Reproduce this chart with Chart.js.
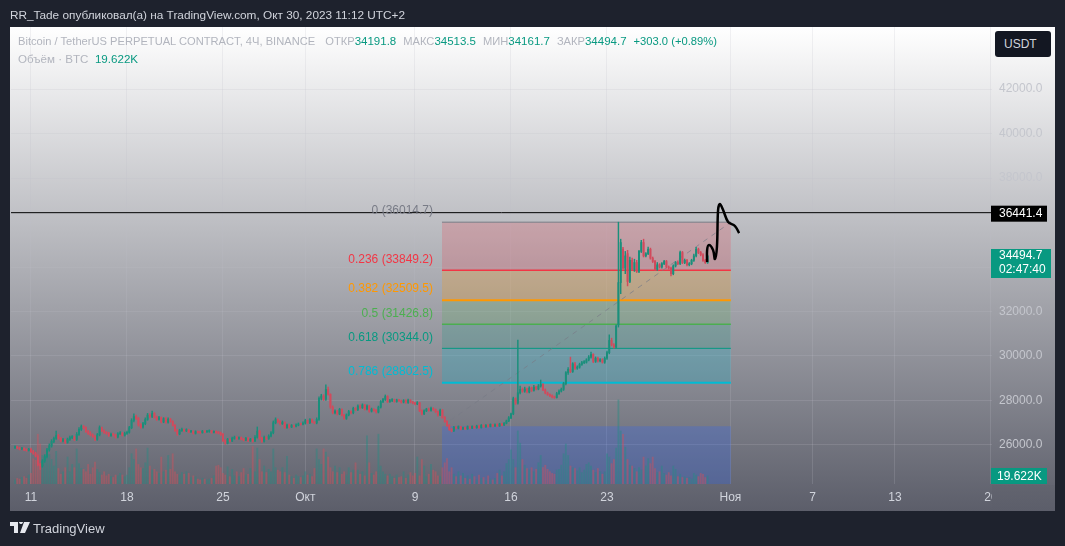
<!DOCTYPE html>
<html>
<head>
<meta charset="utf-8">
<script src="https://cdn.jsdelivr.net/npm/chart.js"></script>
<style>
  html, body { margin: 0; padding: 0; background: #1e222d; width: 1065px; height: 546px; overflow: hidden; }
  body { font-family: "Liberation Sans", sans-serif; font-size: 12px; position: relative; }
  #panel { position: absolute; left: 10px; top: 27px; width: 1045px; height: 484px; background: linear-gradient(#ffffff, #5c5e6a); }
  canvas { position: absolute; left: 0; top: 0; }
  .txt { position: absolute; white-space: pre; }
  .val { color: #089981; }
  #title { left: 10px; top: 8px; color: #d1d4dc; font-size: 11.8px; }
  #line1 { left: 18px; top: 35px; color: #b2b5be; font-size: 11.15px; }
  #line1 .val { font-size: 11.5px; }
  #line1 .name { margin-left: 7px; }
  #line1 .chg { font-size: 11.2px; margin-left: 7px; }
  #line2 { left: 18px; top: 52px; color: #b2b5be; font-size: 11.6px; }
  #usdt { left: 995px; top: 31px; width: 56px; height: 26px; line-height: 26px; background: #131722; color: #d1d4dc; border-radius: 3px; text-indent: 9px; }
  #corner { position: absolute; left: 992px; top: 485px; width: 63px; height: 26px; background: linear-gradient(#62646f, #5c5e6a); }
  #brand { left: 33px; top: 521px; color: #d1d4dc; font-size: 13px; }
  #logo { position: absolute; left: 10px; top: 522px; }
</style>
</head>
<body>
<div id="panel"></div>
<canvas id="grafico" width="1065" height="546"></canvas>
<div id="corner"></div>
<div class="txt" id="title">RR_Tade опубликовал(а) на TradingView.com, Окт 30, 2023 11:12 UTC+2</div>
<div class="txt" id="line1">Bitcoin / TetherUS PERPETUAL CONTRACT, 4Ч, BINANCE <span class="name">ОТКР</span><span class="val">34191.8</span><span class="name">МАКС</span><span class="val">34513.5</span><span class="name">МИН</span><span class="val">34161.7</span><span class="name">ЗАКР</span><span class="val">34494.7</span><span class="val chg">+303.0 (+0.89%)</span></div>
<div class="txt" id="line2">Объём · BTC  <span class="val">19.622K</span></div>
<div class="txt" id="usdt">USDT</div>
<svg id="logo" width="20" height="12" viewBox="0 0 20 12"><path fill="#e6e8ee" d="M0 0h8v11H4V4H0zM9 0a2 2 0 1 1 0 .01zM14 0h6l-5 11h-5z"/></svg>
<div class="txt" id="brand">TradingView</div>

<script>
// velas de 4 horas, la primera en el indice -7 (indice 0 = 11 sep)
var firstIndex = -7;

var opens = [
  25880,25900,25870,25820,25850,25790,25760,
  25810,25700,25620,25500,25120,25060, 25280,25480,25780,25960,26160,26300,
  26430,26300,26180,26240,26120,26260, 26330,26350,26250,26480,26700,26830,
  26780,26600,26520,26450,26380,26250, 26460,26780,26640,26560,26530,26420,
  26480,26460,26360,26500,26540,26440, 26520,26570,26780,27100,27280,27200,
  26900,26800,26960,27150,27340,27280, 27420,27250,27150,27230,27040,27180,
  27020,27160,27060,26880,26650,26500, 26650,26700,26640,26680,26590,26620,
  26530,26600,26570,26560,26620,26590, 26610,26640,26570,26610,26560,26540,
  26480,26200,26080,26240,26180,26300, 26340,26290,26330,26270,26220,26300,
  26190,26250,26180,26350,26620,26300, 26170,26340,26290,26400,26550,27000,
  27140,27060,26960,27020,26780,26900, 26810,26880,26840,26900,26950,26930,
  26990,27100,27000,27140,27030,26990, 27150,28100,28200,28050,28500,28280,
  27700,27450,27520,27400,27600,27350, 27200,27350,27500,27450,27650,27590,
  27750,27680,27800,27620,27750,27520, 27610,27560,27480,27700,27950,28050,
  28180,27950,28000,28040,27960,28020, 27990,27930,28000,27910,28020,27930,
  27890,27850,27900,27550,27400,27540, 27610,27560,27650,27600,27500,27350,
  27560,27240,27060,26880,26700,26640, 26800,26760,26820,26720,26780,26730,
  26820,26760,26830,26780,26850,26790, 26880,26820,26890,26840,26920,26850,
  26910,26860,26940,26900,26980,27080, 27220,27400,28080,27880,28350,28500,
  28420,28520,28380,28560,28450,28600, 28520,28650,28720,28480,28340,28270,
  28210,28160,28130,28310,28420,28500, 28760,29250,29400,29300,29650,29450,
  29500,29620,29700,29720,29820,29950, 30080,29760,29900,29780,29830,29720,
  29900,30150,30700,30500,30400,31400,
  33300,34800,33950,34600,33350, 34300,33900,34200,33800,34700,
  35100,34500,34600,34800,34400, 34250,33900,34100,34000,34150,
  34250,34000,33950,33700,34050, 34200,34150,34650,34200,34300,
  34100,34150,34300,34500,34800, 34650,34550,34300,34191.8
];
var highs = [
  25960,25950,25900,25900,25880,25830,25850,
  25860,25760,25680,25560,25180,25340, 25560,25850,26050,26240,26360,26620,
  26480,26340,26300,26260,26310,26400, 26420,26400,26560,26780,26900,26880,
  26820,26660,26600,26500,26420,26520, 26860,26800,26680,26600,26570,26540,
  26530,26480,26560,26600,26560,26580, 26620,26840,27180,27400,27340,27240,
  26960,27020,27220,27420,27400,27520, 27460,27300,27290,27260,27230,27240,
  27220,27200,27090,26920,26700,26710, 26760,26720,26730,26700,26660,26640,
  26640,26620,26600,26660,26640,26650, 26680,26660,26640,26640,26600,26580,
  26520,26240,26300,26280,26360,26400, 26380,26370,26360,26300,26350,26340,
  26300,26290,26420,26810,26660,26340, 26400,26380,26460,26600,27080,27220,
  27180,27100,27080,27040,26940,26940, 26920,26900,26950,26990,26980,27040,
  27160,27120,27190,27170,27050,27220, 28160,28280,28260,28700,28600,28300,
  27760,27580,27560,27650,27620,27380, 27400,27560,27540,27700,27680,27810,
  27800,27850,27820,27800,27780,27660, 27640,27600,27750,28000,28100,28250,
  28220,28050,28090,28060,28060,28050, 28020,28040,28040,28060,28040,27960,
  27920,27950,27920,27580,27580,27650, 27660,27700,27680,27620,27520,27610,
  27600,27280,27100,26920,26740,26840, 26830,26860,26840,26810,26800,26860,
  26850,26860,26850,26890,26870,26920, 26910,26920,26920,26950,26930,26950,
  26950,26980,26970,27010,27120,27280, 27440,28150,28120,30720,28650,28560,
  28600,28560,28620,28600,28680,28640, 28720,28920,28760,28520,28380,28300,
  28260,28200,28370,28480,28560,28820, 29300,29480,29950,29700,29720,29560,
  29680,29760,29790,29880,30020,30180, 30100,29960,29950,29880,29880,29960,
  30220,30950,30800,30560,31400,36014.7,
  35250,34880,34700,34750,34450, 34400,34350,34300,34750,35200,
  35250,34650,34900,34850,34450, 34300,34200,34150,34200,34300,
  34300,34050,34000,34100,34250, 34280,34720,34700,34360,34350,
  34200,34350,34580,34880,34850, 34700,34600,34350,34513.5
];
var lows = [
  25840,25830,25780,25790,25750,25720,25730,
  25660,25580,25460,25060,24900,25000, 25220,25420,25720,25900,26100,26250,
  26260,26140,26140,26060,26080,26210, 26280,26200,26200,26430,26650,26720,
  26560,26480,26410,26340,26200,26210, 26410,26600,26520,26480,26380,26380,
  26400,26310,26320,26470,26400,26400, 26480,26530,26730,27040,27150,26850,
  26750,26760,26910,27110,27220,27230, 27210,27100,27120,26990,27000,26970,
  26980,27020,26850,26610,26430,26460, 26610,26600,26600,26550,26570,26490,
  26490,26530,26520,26530,26550,26560, 26570,26530,26540,26520,26500,26430,
  26150,26030,26050,26140,26150,26260, 26250,26250,26230,26180,26190,26150,
  26160,26130,26150,26310,26260,26120, 26130,26240,26250,26360,26500,26950,
  26990,26900,26920,26740,26750,26760, 26780,26800,26810,26860,26890,26900,
  26940,26960,26960,27000,26950,26950, 27100,28020,28000,28000,28240,27650,
  27400,27400,27350,27360,27310,27150, 27150,27310,27400,27400,27540,27540,
  27630,27640,27570,27580,27470,27480, 27510,27430,27440,27660,27900,28000,
  27900,27910,27950,27920,27920,27950, 27880,27890,27870,27870,27890,27850,
  27800,27810,27500,27350,27360,27500, 27520,27520,27550,27450,27300,27320,
  27200,27020,26840,26660,26590,26600, 26720,26720,26680,26690,26690,26700,
  26730,26730,26740,26750,26750,26760, 26790,26790,26800,26810,26820,26830,
  26830,26830,26870,26870,26950,27050, 27180,27360,27820,27840,28300,28370,
  28370,28340,28340,28400,28420,28470, 28480,28600,28440,28300,28230,28170,
  28120,28090,28110,28270,28380,28450, 28700,29170,29250,29260,29400,29400,
  29450,29580,29650,29680,29780,29900, 29700,29710,29720,29730,29680,29670,
  29850,30100,30450,30350,30350,31300,
  32800,33900,33700,33150,33300, 33850,33800,33750,33750,34650,
  34450,34450,34550,34350,34200, 33850,33850,33950,33950,34100,
  33950,33900,33600,33650,34000, 34100,34100,34150,34150,34050,
  34050,34100,34250,34450,34600, 34500,34250,34161.7,34161.7
];
var closes = [
  25900,25870,25820,25850,25790,25760,25810,
  25700,25620,25500,25120,25060,25280, 25480,25780,25960,26160,26300,26430,
  26300,26180,26240,26120,26260,26330, 26350,26250,26480,26700,26830,26780,
  26600,26520,26450,26380,26250,26460, 26780,26640,26560,26530,26420,26480,
  26460,26360,26500,26540,26440,26520, 26570,26780,27100,27280,27200,26900,
  26800,26960,27150,27340,27280,27420, 27250,27150,27230,27040,27180,27020,
  27160,27060,26880,26650,26500,26650, 26700,26640,26680,26590,26620,26530,
  26600,26570,26560,26620,26590,26610, 26640,26570,26610,26560,26540,26480,
  26200,26080,26240,26180,26300,26340, 26290,26330,26270,26220,26300,26190,
  26250,26180,26350,26620,26300,26170, 26340,26290,26400,26550,27000,27140,
  27060,26960,27020,26780,26900,26810, 26880,26840,26900,26950,26930,26990,
  27100,27000,27140,27030,26990,27150, 28100,28200,28050,28500,28280,27700,
  27450,27520,27400,27600,27350,27200, 27350,27500,27450,27650,27590,27750,
  27680,27800,27620,27750,27520,27610, 27560,27480,27700,27950,28050,28180,
  27950,28000,28040,27960,28020,27990, 27930,28000,27910,28020,27930,27890,
  27850,27900,27550,27400,27540,27610, 27560,27650,27600,27500,27350,27560,
  27240,27060,26880,26700,26640,26800, 26760,26820,26720,26780,26730,26820,
  26760,26830,26780,26850,26790,26880, 26820,26890,26840,26920,26850,26910,
  26860,26940,26900,26980,27080,27220, 27400,28080,27880,28350,28500,28420,
  28520,28380,28560,28450,28600,28520, 28650,28720,28480,28340,28270,28210,
  28160,28130,28310,28420,28500,28760, 29250,29400,29300,29650,29450,29500,
  29620,29700,29720,29820,29950,30080, 29760,29900,29780,29830,29720,29900,
  30150,30700,30500,30400,31350,33300,
  35100,33950,34500,33350,34300, 33900,34200,33800,34700,35100,
  34500,34600,34800,34400,34250, 33900,34100,34000,34150,34250,
  34000,33950,33700,34050,34200, 34150,34650,34200,34300,34100,
  34150,34300,34500,34800,34650, 34550,34300,34191.8,34494.7
];
// volumen en miles de BTC
var volumes = [
  10,14,12,16,18,14,22,
  26,62,58,122,98,70, 72,66,72,60,44,80,
  38,24,30,40,66,30, 48,40,86,50,38,36,
  30,48,24,40,54,36, 28,22,30,20,24,18,
  16,22,20,26,22,18, 22,40,74,60,86,48,
  40,38,52,88,44,34, 36,30,26,66,30,34,
  70,36,74,30,24,22, 28,24,30,26,16,20,
  18,12,10,14,12,10, 12,14,20,44,46,40,
  26,22,42,18,36,20, 30,18,28,38,22,24,
  38,92,30,88,60,30, 44,28,36,30,86,40,
  34,30,40,28,68,22, 18,14,22,18,16,20,
  30,22,24,18,38,86, 60,48,86,78,66,40,
  30,44,28,40,24,30, 22,40,28,34,52,34,
  24,30,20,118,52,26, 22,30,122,44,30,24,
  20,24,18,14,22,16, 18,30,14,22,28,20,
  26,66,20,60,44,18, 24,48,34,30,20,18,
  40,52,62,30,40,24, 18,30,20,26,14,20,
  12,24,18,10,22,14, 16,8,20,12,10,14,
  26,34,20,30,50,60, 84,60,40,130,100,60,
  46,38,34,40,30,36, 52,70,40,46,36,30,
  26,24,34,36,46,74, 98,70,44,40,38,32,
  40,28,34,48,52,44, 34,28,38,30,24,30,
  74,66,50,60,88,206,
  130,122,90,60,46, 44,38,30,40,34,
  66,44,62,50,66, 38,28,30,44,26,
  22,28,20,44,36, 18,24,16,18,14,
  16,12,26,22,18, 26,24,16,19.622
];

var timeTicks = [0, 42, 84, 120, 168, 210, 252, 306, 342, 378, 420];
var timeLabels = ['11', '18', '25', 'Окт', '9', '16', '23', 'Ноя', '7', '13', '20'];
var priceTicks = [26000, 28000, 30000, 32000, 34000, 36000, 38000, 40000, 42000];
var hiddenPrices = [34000, 36000];

// niveles de Fibonacci
var fibNames = ['0', '0.236', '0.382', '0.5', '0.618', '0.786'];
var fibPrices = [36014.7, 33849.2, 32509.5, 31426.8, 30344.0, 28802.5];
var fibBase = 26838;
var fibStart = 179.8;
var fibEnd = 306.2;

var markedPrice = 36441.4;
var lastPrice = 34494.7;
var lastVolume = 19.622;

// trazo a mano sobre el grafico
var penX = [295.8, 295.8, 296.6, 298.4, 299.2, 300.1, 300.6, 301.4, 302.8, 305, 308, 309.8];
var penY = [34224, 34763, 34988, 34763, 34359, 34898, 36561, 36831, 36561, 36022, 35842, 35527];

var xMin = -8.75, xMax = 420.44;
var yMin = 24247, yMax = 44787;
var volMax = 1120;

var fibColors = ['#787b86', '#f23645', '#ff9800', '#4caf50', '#089981', '#00bcd4'];
var fibWidths = [1, 1.5, 2, 1.5, 1, 2];
var bandColors = ['rgba(242,54,69,.2)', 'rgba(255,152,0,.22)', 'rgba(76,175,80,.2)', 'rgba(8,153,129,.2)', 'rgba(0,188,212,.22)'];
var upColor = '#1a8f7b', downColor = '#d24a5c';

var labelFont = '12px "Liberation Sans"';
Chart.defaults.font.family = '"Liberation Sans"';
Chart.defaults.font.size = 12;

function indexOf(k) { return firstIndex + k; }

var candleColors = closes.map(function (c, k) { return c >= opens[k] ? upColor : downColor; });
var volumeColors = closes.map(function (c, k) { return c >= opens[k] ? 'rgba(38,140,130,.45)' : 'rgba(210,80,90,.45)'; });

// datasets de las bandas de Fibonacci
var fibDatasets = fibPrices.map(function (price, k) {
  var target = k < bandColors.length ? fibPrices[k + 1] : price;
  return {
    type: 'line',
    data: [{ x: fibStart, y: price }, { x: fibEnd, y: price }],
    borderColor: fibColors[k],
    borderWidth: fibWidths[k],
    pointRadius: 0,
    fill: { target: { value: target } },
    backgroundColor: k < bandColors.length ? bandColors[k] : 'transparent',
    order: 10
  };
});

var datasets = fibDatasets.concat([
  {
    type: 'line',
    data: [{ x: fibStart, y: fibBase }, { x: fibEnd, y: fibBase }],
    borderWidth: 0,
    pointRadius: 0,
    fill: { target: { value: yMin } },
    backgroundColor: 'rgba(41,98,255,.25)',
    order: 10
  },
  {
    type: 'line',
    data: [{ x: fibStart, y: fibBase }, { x: fibEnd, y: fibPrices[0] }],
    borderColor: 'rgba(120,123,134,.7)',
    borderWidth: 1,
    borderDash: [5, 5],
    pointRadius: 0,
    order: 9
  },
  {
    type: 'bar',
    yAxisID: 'yVol',
    data: volumes.map(function (v, k) { return { x: indexOf(k), y: v }; }),
    backgroundColor: volumeColors,
    barThickness: 1.2,
    grouped: false,
    order: 8
  },
  {
    type: 'bar',
    data: highs.map(function (h, k) { return { x: indexOf(k), y: [lows[k], h] }; }),
    backgroundColor: candleColors,
    barThickness: 0.8,
    grouped: false,
    order: 4
  },
  {
    type: 'bar',
    data: opens.map(function (o, k) { return { x: indexOf(k), y: [o, closes[k]] }; }),
    backgroundColor: candleColors,
    barThickness: 1.3,
    minBarLength: 1,
    grouped: false,
    order: 3
  },
  {
    type: 'line',
    data: [{ x: xMin, y: markedPrice }, { x: xMax, y: markedPrice }],
    borderColor: '#000000',
    borderWidth: 1,
    pointRadius: 0,
    order: 2
  },
  {
    type: 'line',
    data: penX.map(function (x, k) { return { x: x, y: penY[k] }; }),
    borderColor: '#000000',
    borderWidth: 2.5,
    tension: 0.35,
    pointRadius: 0,
    order: 1
  }
]);

// etiquetas de Fibonacci y marcas del eje de precios
var overlayPlugin = {
  id: 'overlay',
  afterDatasetsDraw: function (chart) {
    var ctx = chart.ctx;
    var y = chart.scales.y;
    var yVol = chart.scales.yVol;
    ctx.save();
    ctx.font = labelFont;
    ctx.textBaseline = 'middle';

    ctx.textAlign = 'right';
    fibPrices.forEach(function (price, k) {
      ctx.fillStyle = fibColors[k];
      ctx.fillText(fibNames[k] + ' (' + price.toFixed(1) + ')', 433, y.getPixelForValue(price) - 11);
    });

    ctx.textAlign = 'left';
    var py = y.getPixelForValue(markedPrice);
    ctx.fillStyle = '#000000';
    ctx.fillRect(991, py - 7, 56, 16);
    ctx.fillStyle = '#ffffff';
    ctx.fillText(markedPrice.toFixed(1), 999, py + 1.5);

    py = y.getPixelForValue(lastPrice);
    ctx.fillStyle = '#089981';
    ctx.fillRect(991, py - 7, 60, 29);
    ctx.fillStyle = '#ffffff';
    ctx.fillText(lastPrice.toFixed(1), 999, py);
    ctx.fillText('02:47:40', 999, py + 14);

    py = yVol.getPixelForValue(lastVolume);
    ctx.fillStyle = '#089981';
    ctx.fillRect(991, py - 8, 56, 16);
    ctx.fillStyle = '#ffffff';
    ctx.fillText(lastVolume.toFixed(3) + 'K', 997, py + 0.5);
    ctx.restore();
  }
};

var grid = { color: 'rgba(190,192,202,.2)', drawTicks: false, offset: false };

new Chart(document.getElementById('grafico').getContext('2d'), {
  data: { datasets: datasets },
  plugins: [overlayPlugin],
  options: {
    responsive: false,
    animation: false,
    events: [],
    layout: { padding: { left: 11, right: 10, top: 27, bottom: 35 } },
    plugins: { legend: { display: false }, tooltip: { enabled: false } },
    scales: {
      x: {
        type: 'linear',
        offset: false,
        min: xMin,
        max: xMax,
        grid: grid,
        border: { display: false },
        afterBuildTicks: function (scale) {
          scale.ticks = timeTicks.map(function (v) { return { value: v }; });
        },
        afterFit: function (scale) { scale.height = 27; },
        ticks: {
          autoSkip: false,
          maxRotation: 0,
          padding: 6,
          color: '#d1d4dc',
          callback: function (value) { return timeLabels[timeTicks.indexOf(value)]; }
        }
      },
      y: {
        type: 'linear',
        position: 'right',
        min: yMin,
        max: yMax,
        grid: grid,
        border: { display: false },
        afterBuildTicks: function (scale) {
          scale.ticks = priceTicks.map(function (v) { return { value: v }; });
        },
        afterFit: function (scale) { scale.width = 63; },
        ticks: {
          autoSkip: false,
          padding: 7,
          color: '#c4c6cd',
          callback: function (value) {
            return hiddenPrices.indexOf(value) >= 0 ? '' : value.toFixed(1);
          }
        }
      },
      yVol: {
        type: 'linear',
        display: false,
        min: 0,
        max: volMax
      }
    }
  }
});
</script>
</body>
</html>
